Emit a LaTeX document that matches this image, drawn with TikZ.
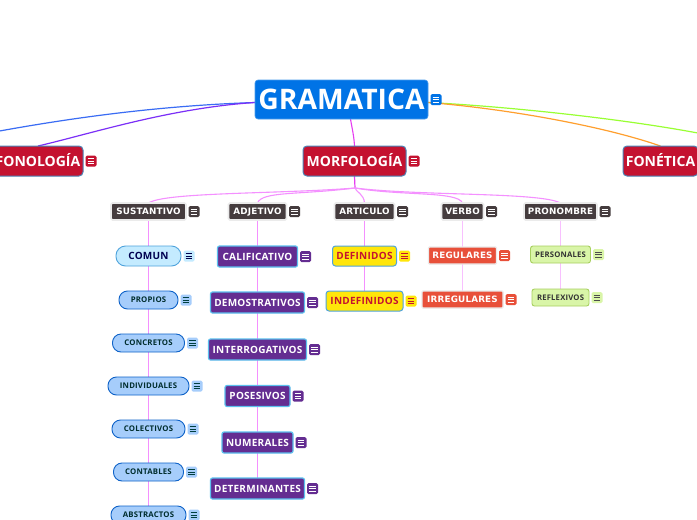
\documentclass[tikz,border=0pt]{standalone}
\usepackage{fontspec}
\usetikzlibrary{backgrounds,calc}
\setmainfont{Open Sans}
\newfontfamily\osb[LetterSpace=2.5]{Open Sans}
\newfontfamily\dvb[LetterSpace=2]{DejaVu Sans}
\definecolor{cblue}{HTML}{0073E6}
\definecolor{cred}{HTML}{C41230}
\definecolor{credb}{HTML}{4A86B8}
\definecolor{cdark}{HTML}{453C3E}
\definecolor{clight}{HTML}{C4EBFF}
\definecolor{clightb}{HTML}{4FA3DC}
\definecolor{cmid}{HTML}{A6CDFB}
\definecolor{cmidb}{HTML}{0E62C8}
\definecolor{cpurple}{HTML}{642D91}
\definecolor{cpurpleb}{HTML}{5CC0EE}
\definecolor{cyel}{HTML}{FFE60A}
\definecolor{corange}{HTML}{E8503A}
\definecolor{cgreen}{HTML}{D9F5A8}
\definecolor{cgreenb}{HTML}{A8D060}
\definecolor{clink}{HTML}{F490FF}
\definecolor{clinkl}{HTML}{F8C0FF}
\definecolor{cmag}{HTML}{E63CF0}
\definecolor{lblue}{HTML}{3A6CF4}
\definecolor{lviolet}{HTML}{7B2FF7}
\definecolor{lgreen}{HTML}{99FF33}
\definecolor{lorange}{HTML}{FF9F2E}
\tikzset{
  x=1pt,y=-1pt,
  base/.style={inner sep=0pt,outer sep=0pt,align=center,font=\bfseries},
  rootbox/.style={base,fill=cblue,draw=cblue!70,line width=.6pt,rounded corners=3pt,text=white,font=\fontsize{28.3}{30}\selectfont\bfseries},
  mainbox/.style={base,fill=cred,draw=credb,line width=1pt,rounded corners=4pt,text=white,font=\fontsize{14}{16}\selectfont\bfseries},
  darkbox/.style={base,fill=cdark,draw=black!8,line width=1.6pt,rounded corners=1.5pt,text=white,font=\dvb\fontsize{8.8}{10}\selectfont\bfseries},
  lightbox/.style={base,fill=clight,draw=clightb,line width=.9pt,rounded corners=9.5pt,text=black!30!blue!45!black,font=\osb\fontsize{10}{12}\selectfont\bfseries},
  midbox/.style={base,fill=cmid,draw=cmidb,line width=.9pt,rounded corners=8.5pt,text=teal!35!black,font=\osb\fontsize{7.8}{10}\selectfont\bfseries},
  purplebox/.style={base,fill=cpurple,draw=cpurpleb,line width=1.2pt,rounded corners=2pt,text=white,font=\osb\fontsize{10}{12}\selectfont\bfseries},
  yelbox/.style={base,fill=cyel,draw=clightb,line width=1pt,rounded corners=3pt,text=cred,font=\osb\fontsize{10}{12}\selectfont\bfseries},
  orbox/.style={base,fill=corange,draw=black!8,line width=1.4pt,rounded corners=1pt,text=white,font=\dvb\fontsize{8.8}{10}\selectfont\bfseries},
  grbox/.style={base,fill=cgreen,draw=cgreenb,line width=.9pt,rounded corners=2.5pt,text=black!80,font=\osb\fontsize{7.7}{10}\selectfont\bfseries},
  icon/.style n args={2}{inner sep=0pt,outer sep=0pt,minimum width=11,minimum height=11,fill=#1,rounded corners=1.5pt,
    path picture={\foreach \dy in {-2.6,0,2.6}{\draw[#2,line width=.8pt] ($(path picture bounding box.center)+(-3.4,\dy)$) -- ($(path picture bounding box.center)+(3.4,\dy)$);}}},
  mainlink/.style={line width=1.2pt},
  childlink/.style={draw=clink,line width=1.3pt},
  childlight/.style={draw=clinkl,line width=1.5pt},
}
% name, style, cx, cy, w, h, text, icon lines, icon fill
\newcommand\bx[9]{\node[#2,minimum width=#5,minimum height=#6] (#1) at (#3,#4) {\vphantom{H}\smash{#7}};\node[icon={#9}{#8}] (#1-i) at ($(#3,#4)+(#5/2+5.5+2.5,0)$) {};}
\begin{document}
\begin{tikzpicture}
\useasboundingbox (0,0) rectangle (697,520);
\clip (0,0) rectangle (697,520);
\bx{gram}{rootbox}{341.5}{99.5}{173}{39}{GRAMATICA}{white}{cblue}
\bx{fono}{mainbox}{38}{161}{90}{30}{FONOLOGÍA}{white}{cred}
\bx{morf}{mainbox}{354.5}{161}{103}{30}{MORFOLOGÍA}{white}{cred}
\node[mainbox,minimum width=75,minimum height=30] (fone) at (660.5,161) {\vphantom{H}\smash{FONÉTICA}};
\coordinate (offL) at (-6,132);
\coordinate (offR) at (703,134);
\coordinate (hub) at (355,188);
\bx{sust}{darkbox}{148.5}{211.5}{75}{17}{SUSTANTIVO}{white}{cdark}
\bx{adj}{darkbox}{257.5}{211.5}{58}{17}{ADJETIVO}{white}{cdark}
\bx{art}{darkbox}{364.5}{211.5}{60}{17}{ARTICULO}{white}{cdark}
\bx{verb}{darkbox}{462.5}{211.5}{42}{17}{VERBO}{white}{cdark}
\bx{pron}{darkbox}{560.5}{211.5}{73}{17}{PRONOMBRE}{white}{cdark}
\bx{comun}{lightbox}{148.5}{256}{65}{20}{COMUN}{black!70!blue}{clight}
\bx{propios}{midbox}{148.5}{300}{59}{18}{PROPIOS}{teal!50!black}{cmid}
\bx{concr}{midbox}{148.5}{343}{72}{18}{CONCRETOS}{teal!50!black}{cmid}
\bx{indiv}{midbox}{148.5}{386}{81}{18}{INDIVIDUALES}{teal!50!black}{cmid}
\bx{colec}{midbox}{148.5}{429}{73}{18}{COLECTIVOS}{teal!50!black}{cmid}
\bx{conta}{midbox}{148.5}{472}{70}{18}{CONTABLES}{teal!50!black}{cmid}
\bx{abstr}{midbox}{148.5}{515}{75}{18}{ABSTRACTOS}{teal!50!black}{cmid}
\bx{calif}{purplebox}{257.5}{256.5}{80}{21}{CALIFICATIVO}{white}{cpurple}
\bx{demos}{purplebox}{257.5}{302.5}{94}{21}{DEMOSTRATIVOS}{white}{cpurple}
\bx{inter}{purplebox}{257.5}{349.5}{98}{21}{INTERROGATIVOS}{white}{cpurple}
\bx{pose}{purplebox}{257.5}{396}{65}{21}{POSESIVOS}{white}{cpurple}
\bx{nume}{purplebox}{257.5}{442.5}{71}{21}{NUMERALES}{white}{cpurple}
\bx{deter}{purplebox}{257.5}{488.5}{94}{21}{DETERMINANTES}{white}{cpurple}
\bx{defi}{yelbox}{364.5}{256}{64}{20}{DEFINIDOS}{cred}{cyel}
\bx{indef}{yelbox}{364.5}{301}{77}{20}{INDEFINIDOS}{cred}{cyel}
\bx{regu}{orbox}{462.5}{255.5}{68}{17}{REGULARES}{white}{corange}
\bx{irreg}{orbox}{462.5}{299.5}{81}{17}{IRREGULARES}{white}{corange}
\bx{perso}{grbox}{560.5}{254.5}{60}{17}{PERSONALES}{black!70}{cgreen}
\bx{refle}{grbox}{560.5}{297.5}{57}{17}{REFLEXIVOS}{black!70}{cgreen}
\begin{scope}[on background layer]
\fill[white] (0,0) rectangle (697,520);
\draw[mainlink,color=lblue] ([yshift=-3pt]gram.west) .. controls (150,106) and (60,120) .. (offL);
\draw[mainlink,color=lviolet] ([yshift=-3pt]gram.west) .. controls (170,108) and (90,134) .. (fono.north);
\draw[mainlink,color=lgreen] ([yshift=-3pt]gram.east) .. controls (500,106) and (620,118) .. (offR);
\draw[mainlink,color=lorange] ([yshift=-3pt]gram.east) .. controls (500,108) and (600,125) .. (fone.north);
\draw[cmag,line width=1.1pt] ([xshift=9pt]gram.south) .. controls (352,128) and (354,136) .. (morf.north);
\draw[cmag,line width=1.2pt] (morf.south) -- (hub);
\draw[draw=clink,line width=1.1pt] (hub) .. controls (280,194) and (165,192) .. (sust.north);
\draw[draw=clink,line width=1.1pt] (hub) .. controls (300,195) and (262,191) .. (adj.north);
\draw[draw=clink,line width=1.1pt] (hub) .. controls (356,192) and (364,194) .. (art.north);
\draw[draw=clink,line width=1.1pt] (hub) .. controls (400,196) and (458,191) .. (verb.north);
\draw[draw=clink,line width=1.1pt] (hub) .. controls (420,196) and (540,192) .. (pron.north);
\foreach \a/\b in {sust/comun,comun/propios,propios/concr,concr/indiv,indiv/colec,colec/conta,conta/abstr,adj/calif,calif/demos,demos/inter,inter/pose,pose/nume,nume/deter,art/defi,defi/indef}
  \draw[childlink] (\a.south) -- (\b.north);
\foreach \a/\b in {verb/regu,regu/irreg,pron/perso,perso/refle}
  \draw[childlight] (\a.south) -- (\b.north);
\end{scope}
\end{tikzpicture}
\end{document}
